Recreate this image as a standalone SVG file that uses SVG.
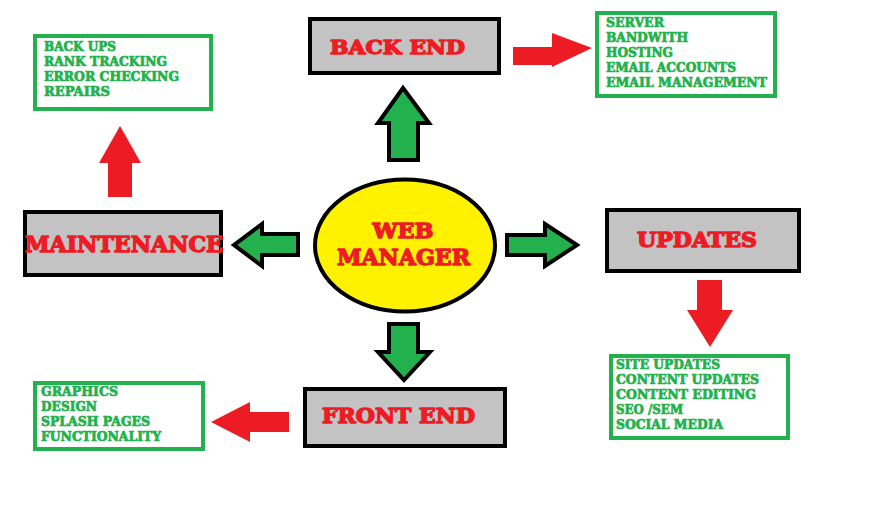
<svg xmlns="http://www.w3.org/2000/svg" width="887" height="521" viewBox="0 0 887 521">
<style>
.box{fill:#c3c3c3;stroke:#000;stroke-width:4}
.list{fill:#fff;stroke:#22b14c;stroke-width:4}
.lbl{font-family:"DejaVu Serif","Liberation Serif",serif;font-weight:900;fill:#ed1c24;stroke:#ed1c24;stroke-width:1.4;stroke-linejoin:round}
.li{font-family:"DejaVu Serif","Liberation Serif",serif;font-weight:900;fill:#22b14c;stroke:#22b14c;stroke-width:0.7;stroke-linejoin:round;font-size:13px}
.ga{fill:#22b14c;stroke:#000;stroke-width:4;stroke-linejoin:miter}
.ra{fill:#ed1c24}
</style>
<rect width="887" height="521" fill="#fff"/>
<g id="connectors">
<polygon class="ga" points="389,160 389,123 378,123 403,88 429,123 418,123 418,160"/>
<polygon class="ga" points="507,235 545,235 545,224 577,245 545,266 545,255 507,255"/>
<polygon class="ga" points="389,324 418,324 418,352 430,352 404,380 378,352 389,352"/>
<polygon class="ga" points="298,234 262,234 262,224 234,245 262,266 262,255 298,255"/>
<polygon class="ra" points="513,47 552,47 552,33 592,48 552,67 552,65 513,65"/>
<polygon class="ra" points="108,197 108,163 99,163 120,126 141,163 132,163 132,197"/>
<polygon class="ra" points="697,280 722,280 722,310 733,310 710,347 687,310 697,310"/>
<polygon class="ra" points="289,412 250,412 250,402 211,422 250,442 250,432 289,432"/>
</g>
<g id="web-manager">
<ellipse cx="405" cy="245.5" rx="90" ry="66" fill="#fff200" stroke="#000" stroke-width="4"/>
<text class="lbl" x="403" y="238" font-size="20" text-anchor="middle" textLength="61" lengthAdjust="spacingAndGlyphs">WEB</text>
<text class="lbl" x="403.5" y="265" font-size="22" text-anchor="middle" textLength="133" lengthAdjust="spacingAndGlyphs">MANAGER</text>
</g>
<g id="back-end">
<rect class="box" x="310" y="19" width="189" height="54"/>
<text class="lbl" x="330" y="54" font-size="19" textLength="135" lengthAdjust="spacingAndGlyphs">BACK END</text>
</g>
<g id="maintenance">
<rect class="box" x="25" y="212" width="196" height="63"/>
<text class="lbl" x="25" y="252" font-size="22" textLength="198" lengthAdjust="spacingAndGlyphs">MAINTENANCE</text>
</g>
<g id="updates">
<rect class="box" x="607" y="210" width="192" height="61"/>
<text class="lbl" x="637" y="247" font-size="20" textLength="120" lengthAdjust="spacingAndGlyphs">UPDATES</text>
</g>
<g id="front-end">
<rect class="box" x="305" y="389" width="200" height="57"/>
<text class="lbl" x="322" y="423" font-size="20" textLength="153" lengthAdjust="spacingAndGlyphs">FRONT END</text>
</g>
<g id="maintenance-list">
<rect class="list" x="35" y="36" width="176" height="73"/>
<text class="li" x="44" y="51" textLength="72" lengthAdjust="spacingAndGlyphs">BACK UPS</text>
<text class="li" x="44" y="66" textLength="123" lengthAdjust="spacingAndGlyphs">RANK TRACKING</text>
<text class="li" x="44" y="81" textLength="135" lengthAdjust="spacingAndGlyphs">ERROR CHECKING</text>
<text class="li" x="44" y="96" textLength="66" lengthAdjust="spacingAndGlyphs">REPAIRS</text>
</g>
<g id="back-end-list">
<rect class="list" x="597" y="13" width="178" height="83"/>
<text class="li" x="606" y="27" textLength="58" lengthAdjust="spacingAndGlyphs">SERVER</text>
<text class="li" x="606" y="42" textLength="82" lengthAdjust="spacingAndGlyphs">BANDWITH</text>
<text class="li" x="606" y="57" textLength="67" lengthAdjust="spacingAndGlyphs">HOSTING</text>
<text class="li" x="606" y="72" textLength="130" lengthAdjust="spacingAndGlyphs">EMAIL ACCOUNTS</text>
<text class="li" x="606" y="87" textLength="161" lengthAdjust="spacingAndGlyphs">EMAIL MANAGEMENT</text>
</g>
<g id="updates-list">
<rect class="list" x="611" y="356" width="177" height="82"/>
<text class="li" x="616" y="369" textLength="104" lengthAdjust="spacingAndGlyphs">SITE UPDATES</text>
<text class="li" x="616" y="384" textLength="143" lengthAdjust="spacingAndGlyphs">CONTENT UPDATES</text>
<text class="li" x="616" y="399" textLength="140" lengthAdjust="spacingAndGlyphs">CONTENT EDITING</text>
<text class="li" x="616" y="414" textLength="67" lengthAdjust="spacingAndGlyphs">SEO /SEM</text>
<text class="li" x="616" y="429" textLength="107" lengthAdjust="spacingAndGlyphs">SOCIAL MEDIA</text>
</g>
<g id="front-end-list">
<rect class="list" x="35" y="383" width="168" height="66"/>
<text class="li" x="41" y="396" textLength="77" lengthAdjust="spacingAndGlyphs">GRAPHICS</text>
<text class="li" x="41" y="411" textLength="56" lengthAdjust="spacingAndGlyphs">DESIGN</text>
<text class="li" x="41" y="426" textLength="109" lengthAdjust="spacingAndGlyphs">SPLASH PAGES</text>
<text class="li" x="41" y="441" textLength="120" lengthAdjust="spacingAndGlyphs">FUNCTIONALITY</text>
</g>
</svg>
